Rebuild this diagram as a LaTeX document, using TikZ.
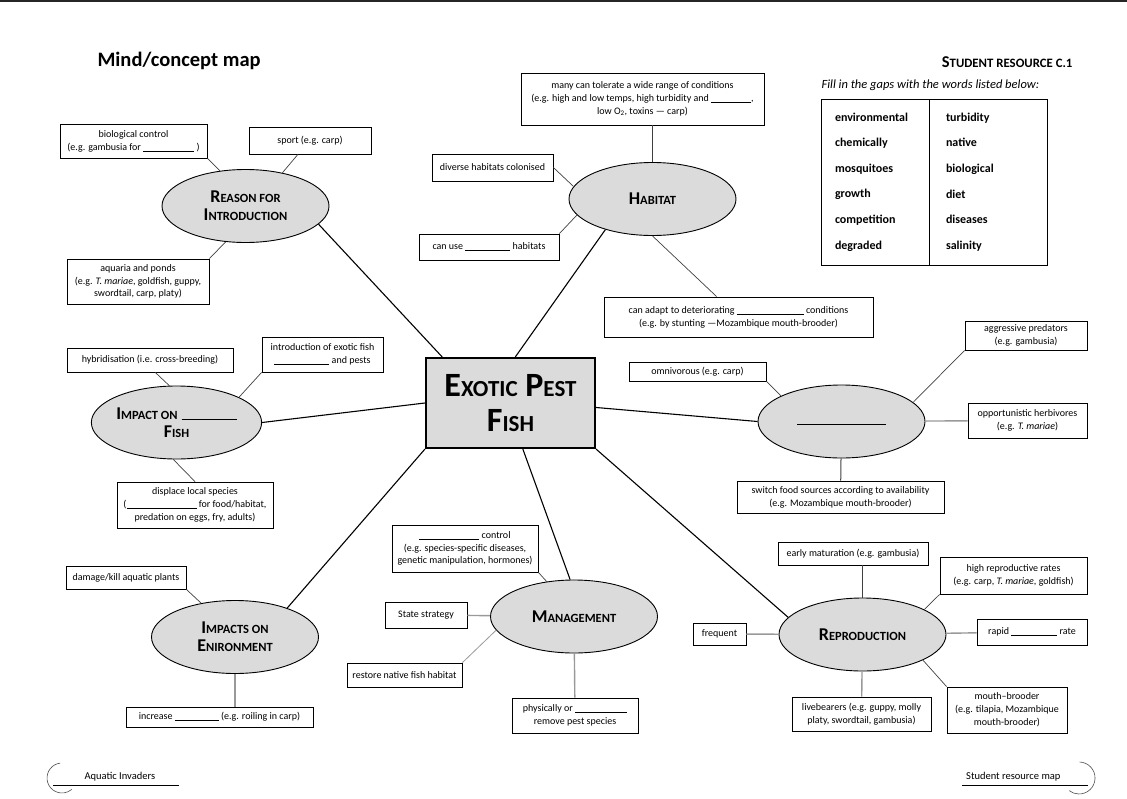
\documentclass[tikz,border=0pt]{standalone}
\usepackage{fontspec}
\setmainfont{Carlito}
\usetikzlibrary{shapes.geometric}
\definecolor{PaleGrey}{gray}{0.86}
\newcommand\blk[1]{\rule[-1pt]{#1pt}{0.5pt}}
\newcommand\hd[1]{{\fontsize{12.5}{18}\selectfont #1}}
\newcommand\hdbig[1]{{\fontsize{23}{35}\selectfont #1}}
\tikzset{
  leaf/.style={draw, line width=0.8pt, align=center, inner sep=1pt, font=\fontsize{10}{12.8}\selectfont},
  sz/.style 2 args={minimum width=#1, minimum height=#2},
  topic/.style={ellipse, draw, line width=0.9pt, fill=PaleGrey, minimum width=167, minimum height=73, inner sep=0pt, align=center, font=\bfseries\fontsize{18}{18}\selectfont},
  spoke/.style={line width=1.1pt},
  twig/.style={line width=0.7pt, black!75},
  stem/.style={line width=1.4pt, black!40},
}
\begin{document}
\begin{tikzpicture}[x=1pt,y=-1pt]
        \useasboundingbox (0,0) rectangle (1127,798);
        \draw[line width=1.5pt, black!85] (0,1) -- (1127,1);

        % headings and word list
        \node[anchor=west, font=\bfseries\fontsize{20.5}{24}\selectfont] (title) at (94,61) {Mind/concept map};
        \node[anchor=east, font=\bfseries\fontsize{16.5}{18}\selectfont] (sheet) at (1076,62) {S{\fontsize{12.8}{14}\selectfont TUDENT RESOURCE C.1}};
        \node[anchor=west, font=\itshape\fontsize{12.5}{14}\selectfont] (fill) at (818,85) {Fill in the gaps with the words listed below:};
        \node[draw, line width=0.8pt, sz={108}{166}, text width=80pt, inner xsep=14pt, align=left, font=\bfseries\fontsize{12}{25.6}\selectfont] (wordsA) at (875,182) {environmental\\chemically\\mosquitoes\\growth\\competition\\degraded};
        \node[draw, line width=0.8pt, sz={118}{166}, text width=84pt, inner xsep=17pt, align=left, font=\bfseries\fontsize{12}{25.6}\selectfont] (wordsB) at (988,182) {turbidity\\native\\biological\\diet\\diseases\\salinity};

        % centre and topics
        \node[draw, line width=2.2pt, fill=PaleGrey, sz={169}{90}, align=center, font=\bfseries\fontsize{34}{35}\selectfont] (pest) at (510.5,403) {E\hdbig{XOTIC} P\hdbig{EST}\\F\hdbig{ISH}};
        \node[topic] (reason) at (245.5,206) {R\hd{EASON FOR}\\I\hd{NTRODUCTION}};
        \node[topic] (habitat) at (652.5,199) {H\hd{ABITAT}};
        \node[topic] (fish) at (176.5,422.5) {I\hd{MPACT ON} \rule[-1pt]{55pt}{0.8pt}\\F\hd{ISH}};
        \node[topic] (food) at (841.5,421.5) {\strut\rule{89pt}{0.7pt}};
        \node[topic] (enviro) at (235,637) {I\hd{MPACTS ON}\\E\hd{NIRONMENT}};
        \node[topic] (manage) at (574,616.5) {M\hd{ANAGEMENT}};
        \node[topic] (repro) at (862.5,634.5) {R\hd{EPRODUCTION}};

        % reason for introduction
        \node[leaf, sz={147}{34}] (bio) at (133.5,141) {biological control\\(e.g. gambusia for \blk{51} )};
        \node[leaf, sz={122}{27}] (sport) at (310,140.5) {sport (e.g. carp)};
        \node[leaf, sz={142}{45}] (aquaria) at (138,281.5) {aquaria and ponds\\(e.g. \textit{T. mariae}, goldfish, guppy,\\swordtail, carp, platy)};

        % habitat
        \node[leaf, sz={243}{52}] (tol) at (642.5,99) {many can tolerate a wide range of conditions\\(e.g. high and low temps, high turbidity and \blk{40},\\low O\textsubscript{2}, toxins — carp)};
        \node[leaf, sz={121}{27}] (diverse) at (492.5,167.5) {diverse habitats colonised};
        \node[leaf, sz={140}{26}] (canuse) at (489,247) {can use \blk{45} habitats};
        \node[leaf, sz={269}{40}] (adapt) at (738.5,317) {can adapt to deteriorating \blk{67} conditions\\(e.g. by stunting —Mozambique mouth-brooder)};

        % impact on fish
        \node[leaf, sz={166}{24}] (hybrid) at (150,360) {hybridisation (i.e. cross-breeding)};
        \node[leaf, sz={121}{35}] (intro) at (322.5,354.5) {introduction of exotic fish\\\blk{55} and pests};
        \node[leaf, sz={156}{46}] (displace) at (195,505) {displace local species\\(\blk{70} for food/habitat,\\predation on eggs, fry, adults)};

        % diet
        \node[leaf, sz={137}{19}] (omni) at (697.5,371.5) {omnivorous (e.g. carp)};
        \node[leaf, sz={122}{29}] (aggr) at (1026,335.5) {aggressive predators\\(e.g. gambusia)};
        \node[leaf, sz={119}{35}] (opp) at (1027.5,420.5) {opportunistic herbivores\\(e.g. \textit{T. mariae})};
        \node[leaf, sz={207}{32}] (switch) at (840.5,497) {switch food sources according to availability\\(e.g. Mozambique mouth-brooder)};

        % impacts on environment
        \node[leaf, sz={120}{23}] (damage) at (126,577.5) {damage/kill aquatic plants};
        \node[leaf, sz={187}{20}] (increase) at (219.5,717) {increase \blk{44} (e.g. roiling in carp)};

        % management
        \node[leaf, sz={146}{47}] (control) at (465,548.5) {\blk{60} control\\(e.g. species-specific diseases,\\genetic manipulation, hormones)};
        \node[leaf, sz={82}{26}] (state) at (426,615) {State strategy};
        \node[leaf, sz={115}{24}] (restore) at (404.5,675) {restore native fish habitat};
        \node[leaf, sz={126}{35}] (physical) at (575,715.5) {physically or \blk{52}\\remove pest species};

        % reproduction
        \node[leaf, sz={150}{23}] (early) at (853,553.5) {early maturation (e.g. gambusia)};
        \node[leaf, sz={147}{37}] (high) at (1013.5,575.5) {high reproductive rates\\(e.g. carp, \textit{T. mariae}, goldfish)};
        \node[leaf, sz={110}{26}] (rapid) at (1032,632) {rapid \blk{46} rate};
        \node[leaf, sz={53}{22}] (frequent) at (719.5,634) {frequent};
        \node[leaf, sz={139}{34}] (live) at (861.5,714) {livebearers (e.g. guppy, molly\\platy, swordtail, gambusia)};
        \node[leaf, sz={120}{46}] (mouth) at (1007,710) {mouth–brooder\\(e.g. tilapia, Mozambique\\mouth-brooder)};

        % main spokes
        \draw[spoke] (reason.-14.5) -- (pest.146.7);
        \draw[spoke] (habitat.213) -- (pest.84.3);
        \draw[spoke] (fish.0) -- (pest.180);
        \draw[spoke] (pest.-3.4) -- (food.180);
        \draw[spoke] (enviro.29.5) -- (pest.south west);
        \draw[spoke] (pest.-75.7) -- (manage.96.3);
        \draw[spoke] (pest.south east) -- (repro.167);

        % twigs
        \draw[twig] (bio.south east) -- (reason.126);
        \draw[twig] (sport.-131.6) -- (reason.42.9);
        \draw[twig] (aquaria.north east) -- (reason.-119);
        \draw[twig, line width=1pt] (habitat.north) -- (habitat.north |- tol.south);
        \draw[twig] (diverse.east) -- (habitat.171.4);
        \draw[twig] (canuse.north east) -- (habitat.192);
        \draw[twig] (habitat.south) -- (adapt.137.1);
        \draw[twig] (hybrid.-67.4) -- (fish.101.6);
        \draw[twig] (intro.south west) -- (fish.22.9);
        \draw[twig] (fish.-95.5) -- (displace.north);
        \draw[twig] (omni.south east) -- (food.157.5);
        \draw[twig] (aggr.south west) -- (food.15.3);
        \draw[stem] (food) -- (opp);
        \draw[twig, line width=1pt] (food) -- (switch);
        \draw[twig] (damage.south east) -- (enviro.135.8);
        \draw[stem] (enviro.south) -- (enviro.south |- increase.north);
        \draw[twig] (control.south east) -- (manage.128);
        \draw[stem] (state) -- (manage);
        \draw[stem, line width=0.8pt] (restore.north east) -- (manage.190.4);
        \draw[stem] (manage) -- (physical);
        \draw[twig, line width=1pt] (repro.north) -- (repro.north |- early.south);
        \draw[twig] (high.south west) -- (repro.22.2);
        \draw[stem] (repro) -- (rapid);
        \draw[stem] (frequent) -- (repro);
        \draw[stem] (repro) -- (live);
        \draw[twig] (mouth.north west) -- (repro.-23.6);

        % footer
        \node[anchor=west, font=\fontsize{10.5}{12}\selectfont] (foot1) at (81,777) {Aquatic Invaders};
        \draw[line width=0.8pt] (53,785) -- (179,785);
        \draw[line width=0.6pt, black!70] (60.2,763.1) arc[start angle=-97, end angle=-310, radius=15];
        \node[anchor=east, font=\fontsize{10.5}{12}\selectfont] (foot2) at (1064,777) {Student resource map};
        \draw[line width=0.8pt] (962,785) -- (1088,785);
        \draw[line width=0.6pt, black!70] (1079.6,762) arc[start angle=-88, end angle=128, radius=16];
\end{tikzpicture}
\end{document}
